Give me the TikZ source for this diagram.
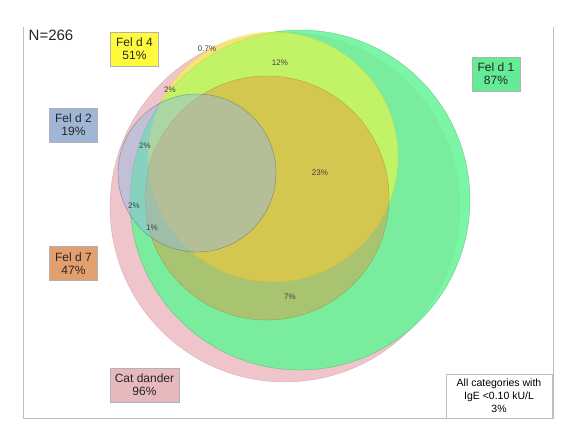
\documentclass[tikz,border=0pt]{standalone}
\usepackage{fontspec}
\setmainfont{Liberation Sans}
\usepackage{tikz}

\definecolor{dander}{RGB}{225,150,160}
\definecolor{feldone}{RGB}{100,245,150}
\definecolor{feldfour}{RGB}{255,250,60}
\definecolor{feldseven}{RGB}{235,140,50}
\definecolor{feldtwo}{RGB}{150,185,225}

\begin{document}
\begin{tikzpicture}[x=1pt,y=-1pt,
  keybox/.style={draw=black!30,align=center,inner xsep=5pt,minimum width=48pt,
    minimum height=34pt,font=\fontsize{12}{13}\selectfont,text=black!85},
  pct/.style={font=\fontsize{8}{9}\selectfont,text=black!75}]
  \useasboundingbox (0,0) rectangle (567,431);
  % frame
  \draw[black!25,line width=1pt] (23,27) -- (23,418) -- (553,418) -- (553,27);
  \node[font=\fontsize{15}{16}\selectfont,text=black!85] (total) at (51,35) {N=266};

  % circles
  \filldraw[fill=dander,fill opacity=0.55,draw=dander!70!black,draw opacity=0.35] (285,207) circle (175);
  \filldraw[fill=feldone,fill opacity=0.85,draw=feldone!60!black,draw opacity=0.5] (300,200) circle (170);
  \filldraw[fill=feldfour,fill opacity=0.55,draw=feldfour!80!black,draw opacity=0.4] (273,157) circle (125);
  \filldraw[fill=feldseven,fill opacity=0.42,draw=feldseven!60!black,draw opacity=0.4] (267,198) circle (122);
  \filldraw[fill=feldtwo,fill opacity=0.5,draw=feldtwo!50!black,draw opacity=0.6] (197,173) circle (79);

  % percentages
  \node[pct] (p07) at (207,49) {0.7\%};
  \node[pct] (p12) at (280,63) {12\%};
  \node[pct] (p2a) at (170,90) {2\%};
  \node[pct] (p2b) at (145,146) {2\%};
  \node[pct] (p23) at (320,173) {23\%};
  \node[pct] (p2c) at (134,206) {2\%};
  \node[pct] (p1) at (152,228) {1\%};
  \node[pct] (p7) at (290,297) {7\%};

  % keys
  \node[keybox,fill=feldfour] (key4) at (134.5,49) {Fel d 4\\51\%};
  \node[keybox,fill={rgb,255:red,160;green,182;blue,215}] (key2) at (73.5,125) {Fel d 2\\19\%};
  \node[keybox,fill={rgb,255:red,100;green,235;blue,150}] (key1) at (496,74) {Fel d 1\\87\%};
  \node[keybox,fill={rgb,255:red,225;green,160;blue,110}] (key7) at (73.5,263.5) {Fel d 7\\47\%};
  \node[keybox,fill={rgb,255:red,230;green,185;blue,190}] (keycat) at (144.5,385) {Cat dander\\96\%};
  \node[draw=black!25,fill=white,align=center,minimum width=106pt,minimum height=44pt,
    inner sep=1pt,font=\fontsize{10.5}{13}\selectfont] (none) at (499,396)
    {All categories with\\IgE <0.10 kU/L\\3\%};
\end{tikzpicture}
\end{document}
